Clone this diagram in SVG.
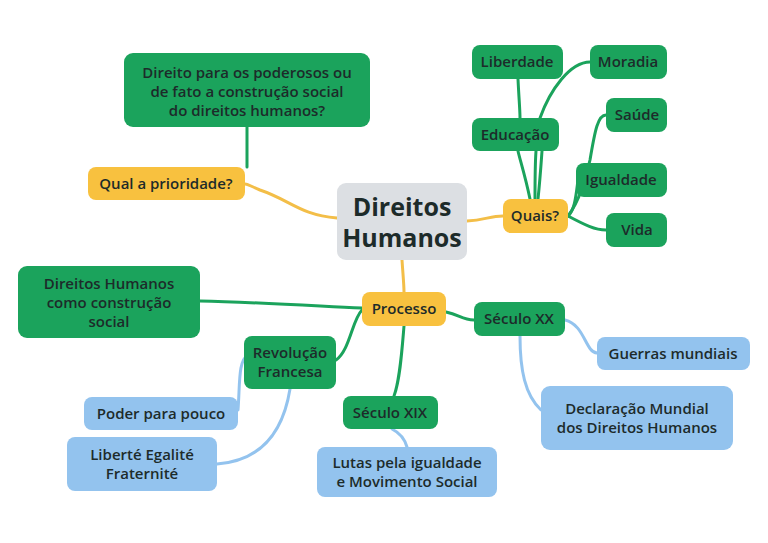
<svg xmlns="http://www.w3.org/2000/svg" width="768" height="543" viewBox="0 0 768 543">
<style>
text{font-family:"Open Sans","Noto Sans",sans-serif;font-size:15px;font-weight:600;fill:#1d2b2a;text-anchor:middle}
.g{fill:#1ba35c}.y{fill:#f8c13f}.b{fill:#93c3ee}.c{fill:#dcdfe3}
.lg{stroke:#1ba35c}.ly{stroke:#f3be48}.lb{stroke:#93c3ee}
#edges path{fill:none;stroke-width:3;stroke-linecap:round}
</style>
<rect width="768" height="543" fill="#fff"/>
<g id="edges">
<path class="ly" d="M337 218 C300 215 290 200 260 190 C250 186 248 184 245 184"/>
<path class="ly" d="M467 221 C485 220 490 216 503 216"/>
<path class="ly" d="M402 260 C403 275 404 285 404 292"/>
<path class="lg" d="M247 167 L247 127"/>
<path class="lg" d="M518 79 C519 100 520 110 520 118"/>
<path class="lg" d="M540 118 C550 90 570 62 590 62"/>
<path class="lg" d="M530 199 C525 175 520 160 518 151"/>
<path class="lg" d="M535 199 C535 180 535 165 536 151"/>
<path class="lg" d="M538 199 C540 180 541 165 542 151"/>
<path class="lg" d="M568 216 C580 200 585 180 590 160 C595 130 598 115 606 115"/>
<path class="lg" d="M568 216 C575 210 576 195 578 180"/>
<path class="lg" d="M568 216 C585 225 595 230 606 230"/>
<path class="lg" d="M362 308 C300 305 250 302 200 301"/>
<path class="lg" d="M362 310 C352 320 350 350 336 360"/>
<path class="lg" d="M404 326 C402 350 400 380 394 396"/>
<path class="lg" d="M446 312 C460 315 462 320 474 320"/>
<path class="lb" d="M248 355 C238 360 240 385 238 410"/>
<path class="lb" d="M290 389 C285 420 270 460 217 464"/>
<path class="lb" d="M392 429 C400 433 405 440 407 447"/>
<path class="lb" d="M565 320 C585 325 585 352 597 353"/>
<path class="lb" d="M520 336 C520 370 525 395 541 410"/>
</g>
<g id="central"><rect class="c" x="337" y="183" width="130" height="77" rx="9"/><text x="402" y="216" style="font-size:25px;font-weight:bold">Direitos</text><text x="402" y="247" style="font-size:25px;font-weight:bold">Humanos</text></g>
<g id="quais"><rect class="y" x="503" y="199" width="65" height="34" rx="8"/><text x="535" y="221">Quais?</text></g>
<g id="liberdade"><rect class="g" x="472" y="45" width="91" height="34" rx="8"/><text x="517" y="67">Liberdade</text></g>
<g id="moradia"><rect class="g" x="590" y="45" width="77" height="34" rx="8"/><text x="628" y="67">Moradia</text></g>
<g id="educacao"><rect class="g" x="472" y="118" width="87" height="33" rx="8"/><text x="515" y="140">Educação</text></g>
<g id="saude"><rect class="g" x="606" y="98" width="61" height="34" rx="8"/><text x="637" y="120">Saúde</text></g>
<g id="igualdade"><rect class="g" x="576" y="163" width="91" height="34" rx="8"/><text x="621" y="185">Igualdade</text></g>
<g id="vida"><rect class="g" x="606" y="213" width="61" height="34" rx="8"/><text x="637" y="235">Vida</text></g>
<g id="prioridade"><rect class="y" x="88" y="167" width="157" height="33" rx="8"/><text x="166" y="189">Qual a prioridade?</text></g>
<g id="direito"><rect class="g" x="124" y="53" width="246" height="74" rx="9"/><text x="247" y="78">Direito para os poderosos ou</text><text x="247" y="97">de fato a construção social</text><text x="247" y="116">do direitos humanos?</text></g>
<g id="processo"><rect class="y" x="362" y="292" width="84" height="34" rx="8"/><text x="404" y="314">Processo</text></g>
<g id="construcao"><rect class="g" x="18" y="266" width="182" height="72" rx="9"/><text x="109" y="289">Direitos Humanos</text><text x="109" y="308">como construção</text><text x="109" y="327">social</text></g>
<g id="revolucao"><rect class="g" x="244" y="336" width="92" height="53" rx="8"/><text x="290" y="358">Revolução</text><text x="290" y="377">Francesa</text></g>
<g id="poder"><rect class="b" x="84" y="397" width="154" height="33" rx="8"/><text x="161" y="419">Poder para pouco</text></g>
<g id="liberte"><rect class="b" x="67" y="437" width="150" height="54" rx="8"/><text x="142" y="460">Liberté Egalité</text><text x="142" y="479">Fraternité</text></g>
<g id="seculo19"><rect class="g" x="343" y="396" width="95" height="33" rx="8"/><text x="390" y="418">Século XIX</text></g>
<g id="lutas"><rect class="b" x="317" y="447" width="180" height="50" rx="8"/><text x="407" y="468">Lutas pela igualdade</text><text x="407" y="487">e Movimento Social</text></g>
<g id="seculo20"><rect class="g" x="474" y="302" width="91" height="34" rx="8"/><text x="519" y="324">Século XX</text></g>
<g id="guerras"><rect class="b" x="597" y="337" width="153" height="33" rx="8"/><text x="673" y="359">Guerras mundiais</text></g>
<g id="declaracao"><rect class="b" x="541" y="386" width="192" height="64" rx="9"/><text x="637" y="414">Declaração Mundial</text><text x="637" y="433">dos Direitos Humanos</text></g>
</svg>
